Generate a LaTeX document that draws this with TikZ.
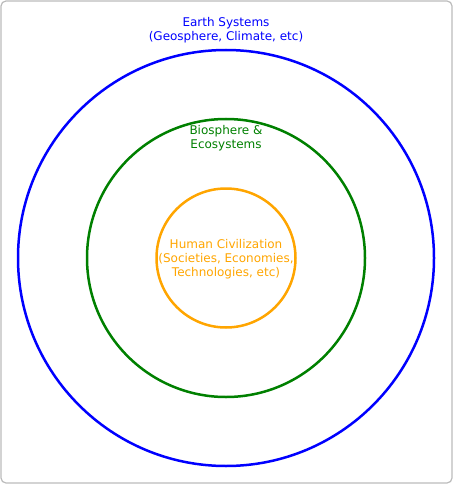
\documentclass[tikz,border=0pt]{standalone}
\usepackage{fontspec}
\setmainfont{DejaVu Sans}
\definecolor{eblue}{HTML}{0000FF}
\definecolor{bgreen}{HTML}{008000}
\definecolor{horange}{HTML}{FFA500}
\definecolor{frame}{HTML}{BBBBBB}
\begin{document}
\begin{tikzpicture}[x=1pt,y=-1pt,
  ring/.style={draw, circle, line width=2.5pt, inner sep=0pt},
  lbl/.style={align=center, font=\fontsize{12}{14}\selectfont, inner sep=0pt}]
\useasboundingbox (0,0) rectangle (453,484);
\draw[frame, line width=1.2pt, rounded corners=5pt] (1,1) rectangle (452,483);
\node[ring, eblue, minimum size=416pt] (earth) at (226,258) {};
\node[ring, bgreen, minimum size=278pt] (bio) at (226,258) {};
\node[ring, horange, minimum size=139pt] (human) at (226,258) {};
\node[lbl, text=eblue] (earthlbl) at (226,30) {Earth Systems\\(Geosphere, Climate, etc)};
\node[lbl, text=bgreen] (biolbl) at (226,138.5) {Biosphere \&\\Ecosystems};
\node[lbl, text=horange] (humanlbl) at (226,259) {Human Civilization\\(Societies, Economies,\\Technologies, etc)};
\end{tikzpicture}
\end{document}
